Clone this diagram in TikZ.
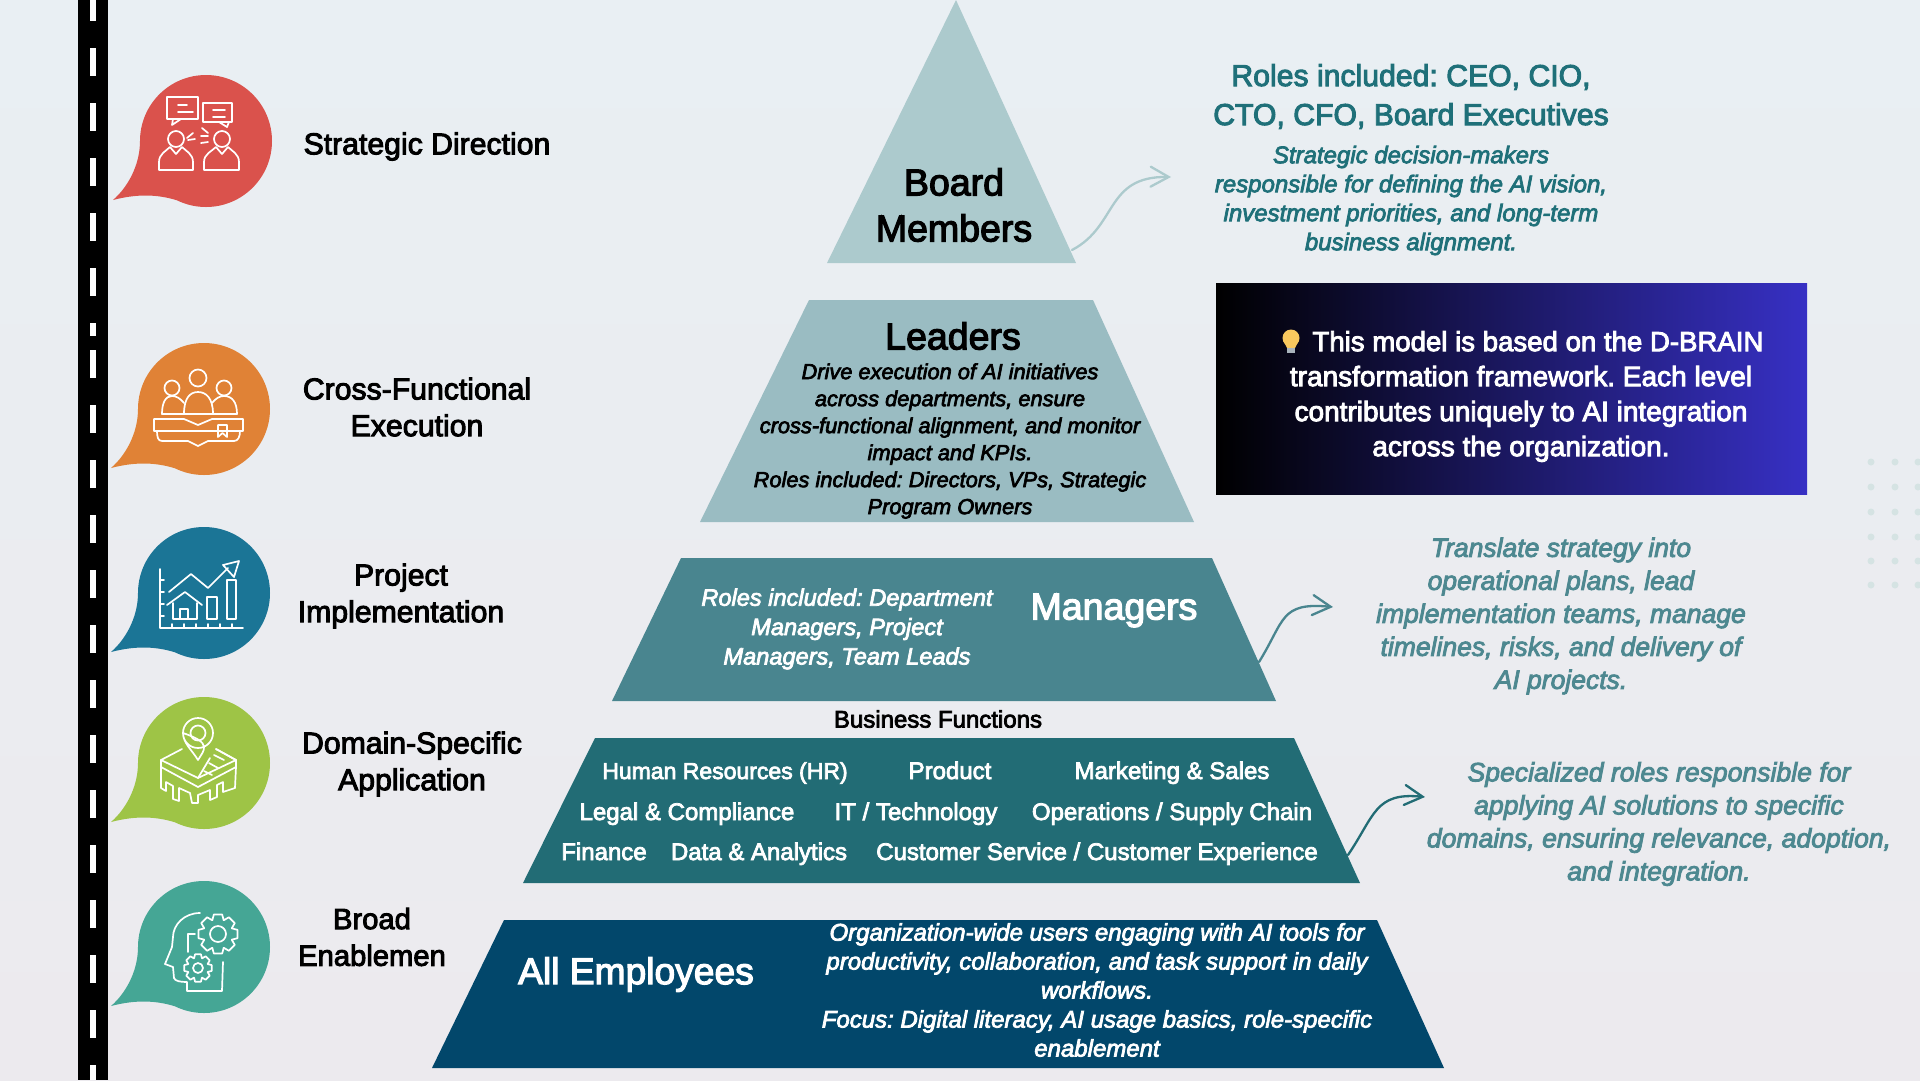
\documentclass[tikz,border=0pt]{standalone}
\usepackage{fontspec}
\setmainfont{Liberation Sans}[UprightFeatures={FakeBold=3.2},ItalicFeatures={FakeBold=3.2}]
\usetikzlibrary{arrows.meta,calc}
\frenchspacing
\definecolor{bgtop}{HTML}{E9EFF3}
\definecolor{bgbot}{HTML}{ECEAEE}
\definecolor{redB}{HTML}{DA524C}
\definecolor{orangeB}{HTML}{E08236}
\definecolor{blueB}{HTML}{1B7596}
\definecolor{greenB}{HTML}{9EC446}
\definecolor{tealB}{HTML}{45A695}
\definecolor{levA}{HTML}{ACCACD}
\definecolor{levB}{HTML}{9ABCC2}
\definecolor{levC}{HTML}{49858F}
\definecolor{levD}{HTML}{226C75}
\definecolor{levE}{HTML}{02476B}
\definecolor{tealT}{HTML}{1F7079}
\definecolor{paleT}{HTML}{4D8890}
\definecolor{boxR}{HTML}{3730C4}
\definecolor{dotC}{HTML}{D5E3E3}
\definecolor{bulbY}{HTML}{F8C85E}
\definecolor{bulbG}{HTML}{A9B4BC}
\tikzset{
	lbl/.style={align=center,inner sep=0pt,text=black,font=\fontsize{30.2}{36.7}\selectfont},
	head/.style={align=center,inner sep=0pt,font=\fontsize{37.5}{46}\selectfont},
	itm/.style={anchor=base,inner sep=0pt,text=white,font=\fontsize{24}{28}\selectfont},
	iconline/.style={draw=white,line width=1.7pt,line join=round,line cap=round},
	swoosh/.style={line width=2.3pt,line cap=round,-{Straight Barb[length=18pt,width=20pt,line cap=round]}},
}
\newcommand{\blob}[3]{
	\fill[#3] (#1,#2) circle (66)
		(#1-93,#2+59) .. controls (#1-79,#2+47) and (#1-66,#2+25) .. (#1-66,#2)
		-- (#1,#2) -- (#1-30,#2+59) .. controls (#1-50,#2+53) and (#1-70,#2+53) .. (#1-93,#2+59) -- cycle;
}
\newcommand{\gearicon}[4]{
	\begin{scope}[shift={(#1,#2)}]
		\draw[iconline] (-22:#3) \foreach \a in {0,45,...,315}{ -- (\a-22:#3) -- (\a-12:#4) -- (\a+12:#4) -- (\a+22:#3)} -- cycle;
	\end{scope}
}
\begin{document}
\begin{tikzpicture}[x=1pt,y=-1pt]
	\useasboundingbox (0,0) rectangle (1920,1080);
	\shade[top color=bgtop,bottom color=bgbot] (0,0) rectangle (1920,1080);
%
	% road
	\fill[black] (78,0) rectangle (108,1080);
	\fill[white] (90,0) rectangle (96,21);
	\foreach \y in {48,103,158,213,268}
		\fill[white] (90,\y) rectangle (96,\y+28);
	\fill[white] (90,323) rectangle (96,336);
	\foreach \y in {350,405,...,1065}
		\fill[white] (90,\y) rectangle (96,{min(\y+28,1080)});
%
	% dots
	\foreach \x in {1871,1895,1918}
		\foreach \y in {462,487,512,537,561,585}
			\fill[dotC] (\x,\y) circle (3.5);
%
	\blob{206}{141}{redB}
	\blob{204}{409}{orangeB}
	\blob{204}{593}{blueB}
	\blob{204}{763}{greenB}
	\blob{204}{947}{tealB}
%
	% people talking
	\draw[iconline] (167,97) rectangle (198,119);
	\draw[iconline] (173,119) -- (172,125) -- (181,119);
	\draw[iconline] (203,103) rectangle (232,122);
	\draw[iconline] (219,122) -- (227,127) -- (229,122);
	\draw[iconline] (178,105) -- (187,105) (178,112) -- (193,112);
	\draw[iconline] (213,110) -- (225,110) (213,117) -- (225,117);
	\draw[iconline] (176,139) circle (8) (222,139) circle (8);
	\draw[iconline] (159,170) -- (193,170) -- (193,162) .. controls (193,154) and (186,151) .. (182,147)
		-- (176,154) -- (170,147) .. controls (166,151) and (159,154) .. (159,162) -- cycle;
	\draw[iconline] (204,170) -- (239,170) -- (239,162) .. controls (239,154) and (232,151) .. (228,147)
		-- (222,154) -- (216,147) .. controls (212,151) and (204,154) .. (204,162) -- cycle;
	\draw[iconline] (187,138) -- (193,133) (188,140) -- (195,139);
	\draw[iconline] (202,128) -- (208,133) (201,136) -- (208,136) (201,143) -- (208,142);
%
	% group with book
	\draw[iconline] (198,378) circle (8.5) (172,388) circle (7.5) (224,388) circle (7.5);
	\draw[iconline] (184,414) .. controls (184,398) and (190,392) .. (198,392) .. controls (206,392) and (213,398) .. (213,414);
	\draw[iconline] (162,414) .. controls (162,402) and (166,396) .. (172,396) .. controls (176,396) and (180,398) .. (184,403);
	\draw[iconline] (237,414) .. controls (237,402) and (232,396) .. (224,396) .. controls (220,396) and (216,398) .. (212,403);
	\draw[iconline] (162,414) -- (237,414);
	\draw[iconline] (154,419) -- (184,419) -- (198,425) -- (212,419) -- (243,419) -- (243,431) -- (154,431) -- cycle;
	\draw[iconline] (157,431) .. controls (157,437) and (158,441) .. (162,441) -- (188,441) -- (198,446) -- (208,441) -- (234,441) .. controls (238,441) and (240,437) .. (240,431);
	\draw[iconline] (218,431) -- (218,425) -- (227,425) -- (227,437) -- (222.5,433) -- (218,437) -- cycle;
%
	% chart with house
	\draw[iconline] (160,569) -- (160,628) -- (243,628);
	\foreach \y in {580,592,604,616}
		\draw[iconline] (160,\y) -- (164,\y);
	\foreach \x in {172,184,196,208,220,232}
		\draw[iconline] (\x,628) -- (\x,624);
	\draw[iconline] (169,592) -- (191,574) -- (208,588) -- (228,568);
	\draw[iconline] (223,565) -- (239,561) -- (234,577) -- cycle;
	\draw[iconline] (167,605) -- (185,592) -- (202,605);
	\draw[iconline] (173,603) -- (173,619) -- (197,619) -- (197,603);
	\draw[iconline] (180,619) -- (180,609) -- (188,609) -- (188,619);
	\draw[iconline] (207,619) -- (207,597) -- (217,597) -- (217,619) -- cycle;
	\draw[iconline] (227,619) -- (227,580) -- (236,580) -- (236,619) -- cycle;
%
	% pin on a block
	\draw[iconline] (198,733) circle (7.5);
	\draw[iconline] (198,760) .. controls (192,750) and (183,743) .. (183,733) arc (180:540:15) .. controls (213,743) and (204,750) .. (198,760) -- cycle;
	\draw[iconline] (182,749) -- (161,760) -- (198,778) -- (236,760) -- (216,749);
	\draw[iconline] (161,760) -- (161,767) -- (198,787) -- (236,767) -- (236,760);
	\draw[iconline] (161,767) -- (161,788) -- (166,791) -- (166,782) -- (173,786) -- (173,799) -- (179,801) -- (179,788) -- (190,793) -- (192,803) -- (198,803) -- (198,795) -- (210,790) -- (210,800) -- (217,797) -- (217,785) -- (223,782) -- (223,792) -- (235,788) -- (236,767);
	\draw[iconline] (198,778) -- (210,758) (216,749) -- (236,760);
	\draw[iconline] (214,755) -- (224,760) (209,763) -- (218,768) (204,771) -- (212,775);
%
	% head with gears
	\draw[iconline] (200,913) .. controls (184,913) and (173,925) .. (173,937) -- (172,947) -- (165,964) -- (173,967) -- (174,978) .. controls (175,981) and (180,982) .. (187,982) -- (187,991) -- (222,991) -- (223,962);
	\draw[iconline] (195,934) -- (188,934) -- (188,952);
	\gearicon{218}{934}{15}{20}
	\draw[iconline] (218,934) circle (8);
	\gearicon{198}{968}{10.5}{14}
	\draw[iconline] (198,968) circle (5);
%
	% pyramid
	\fill[levA] (956,0) -- (1076,263) -- (827,263) -- cycle;
	\fill[levB] (809,300) -- (1093,300) -- (1194,522) -- (700,522) -- cycle;
	\fill[levC] (681,558) -- (1212,558) -- (1276,701) -- (612,701) -- cycle;
	\fill[levD] (595,738) -- (1294,738) -- (1360,883) -- (523,883) -- cycle;
	\fill[levE] (504,920) -- (1377,920) -- (1444,1068) -- (432,1068) -- cycle;
%
	% left labels
	\node[lbl] (Sd) at (427,146.5) {Strategic Direction};
	\node[lbl] (Cf) at (417,407) {Cross-Functional\\ Execution};
	\node[lbl] (Pi) at (401,596) {Project\\ Implementation};
	\node[lbl] (Ds) at (412,764) {Domain-Specific\\ Application};
	\node[lbl,font=\fontsize{29.2}{36.7}\selectfont] (Be) at (372,937) {Broad\\ Enablemen};
%
	% pyramid texts
	\node[head,text=black] (Bm) at (954,205) {Board\\ Members};
	\node[head,text=black] (Ld) at (953,336) {Leaders};
	\node[align=center,inner sep=0pt,text=black,font=\fontsize{21.8}{27}\selectfont\itshape] (LdT) at (950,441) {Drive execution of AI initiatives\\ across departments, ensure\\ cross-functional alignment, and monitor\\ impact and KPIs.\\ Roles included: Directors, VPs, Strategic\\ Program Owners};
	\node[align=center,inner sep=0pt,text=white,font=\fontsize{23.6}{29.4}\selectfont\itshape] (MgT) at (847,629) {Roles included: Department\\ Managers, Project\\ Managers, Team Leads};
	\node[head,text=white] (Mg) at (1114,610.5) {Managers};
	\node[inner sep=0pt,text=black,font=\fontsize{24}{28}\selectfont] (Bf) at (938,719) {Business Functions};
	\node[itm,font=\fontsize{23}{28}\selectfont] (F1) at (725,779) {Human Resources (HR)};
	\node[itm] (F2) at (950,779) {Product};
	\node[itm] (F3) at (1172,779) {Marketing \& Sales};
	\node[itm] (F4) at (687,820) {Legal \& Compliance};
	\node[itm] (F5) at (916,820) {IT / Technology};
	\node[itm] (F6) at (1172,820) {Operations / Supply Chain};
	\node[itm] (F7) at (604,860) {Finance};
	\node[itm] (F8) at (759,860) {Data \& Analytics};
	\node[itm] (F9) at (1097,860) {Customer Service / Customer Experience};
	\node[head,text=white,font=\fontsize{37.2}{46}\selectfont] (Ae) at (636,974.5) {All Employees};
	\node[align=center,inner sep=0pt,text=white,font=\fontsize{24}{29}\selectfont\itshape] (AeT) at (1097,990) {Organization-wide users engaging with AI tools for\\ productivity, collaboration, and task support in daily\\ workflows.\\ Focus: Digital literacy, AI usage basics, role-specific\\ enablement};
%
	% right texts
	\node[align=center,inner sep=0pt,text=tealT,font=\fontsize{30.2}{39}\selectfont] (Ro) at (1411,96.5) {Roles included: CEO, CIO,\\ CTO, CFO, Board Executives};
	\node[align=center,inner sep=0pt,text=tealT,font=\fontsize{24}{29}\selectfont\itshape] (RoT) at (1411,200.5) {Strategic decision-makers\\ responsible for defining the AI vision,\\ investment priorities, and long-term\\ business alignment.};
	\node[align=center,inner sep=0pt,text=paleT,font=\fontsize{26.5}{33}\selectfont\itshape] (Tr) at (1561,616) {Translate strategy into\\ operational plans, lead\\ implementation teams, manage\\ timelines, risks, and delivery of\\ AI projects.};
	\node[align=center,inner sep=0pt,text=paleT,font=\fontsize{26.6}{33}\selectfont\itshape] (Sp) at (1659,824) {Specialized roles responsible for\\ applying AI solutions to specific\\ domains, ensuring relevance, adoption,\\ and integration.};
%
	% note box
	\shade[left color=black,right color=boxR] (1216,283) rectangle (1807,494);
	\node[align=center,inner sep=0pt,text=white,font=\fontsize{28}{35}\selectfont] (Nt) at (1521,396.5) {\hspace*{34pt}{\fontsize{27.6}{35}\selectfont This model is based on the D-BRAIN}\\ transformation framework. Each level\\ contributes uniquely to AI integration\\ across the organization.};
	\fill[bulbY] (1291,338) circle (8.5);
	\fill[bulbY] (1283.5,341) -- (1298.5,341) -- (1295,348) -- (1287,348) -- cycle;
	\fill[bulbG] (1287,348) rectangle (1295,353);
%
	% arrows
	\coordinate (A1s) at (1072,250);
	\coordinate (A1e) at (1171,177);
	\coordinate (A2s) at (1259,662);
	\coordinate (A2e) at (1333,607);
	\coordinate (A3s) at (1348,855);
	\coordinate (A3e) at (1425,797);
	\draw[swoosh,levA] (A1s) .. controls (1118,226) and (1105,176) .. (A1e);
	\draw[swoosh,levC] (A2s) .. controls (1285,620) and (1280,602) .. (A2e);
	\draw[swoosh,levD] (A3s) .. controls (1375,815) and (1375,792) .. (A3e);
\end{tikzpicture}
\end{document}
